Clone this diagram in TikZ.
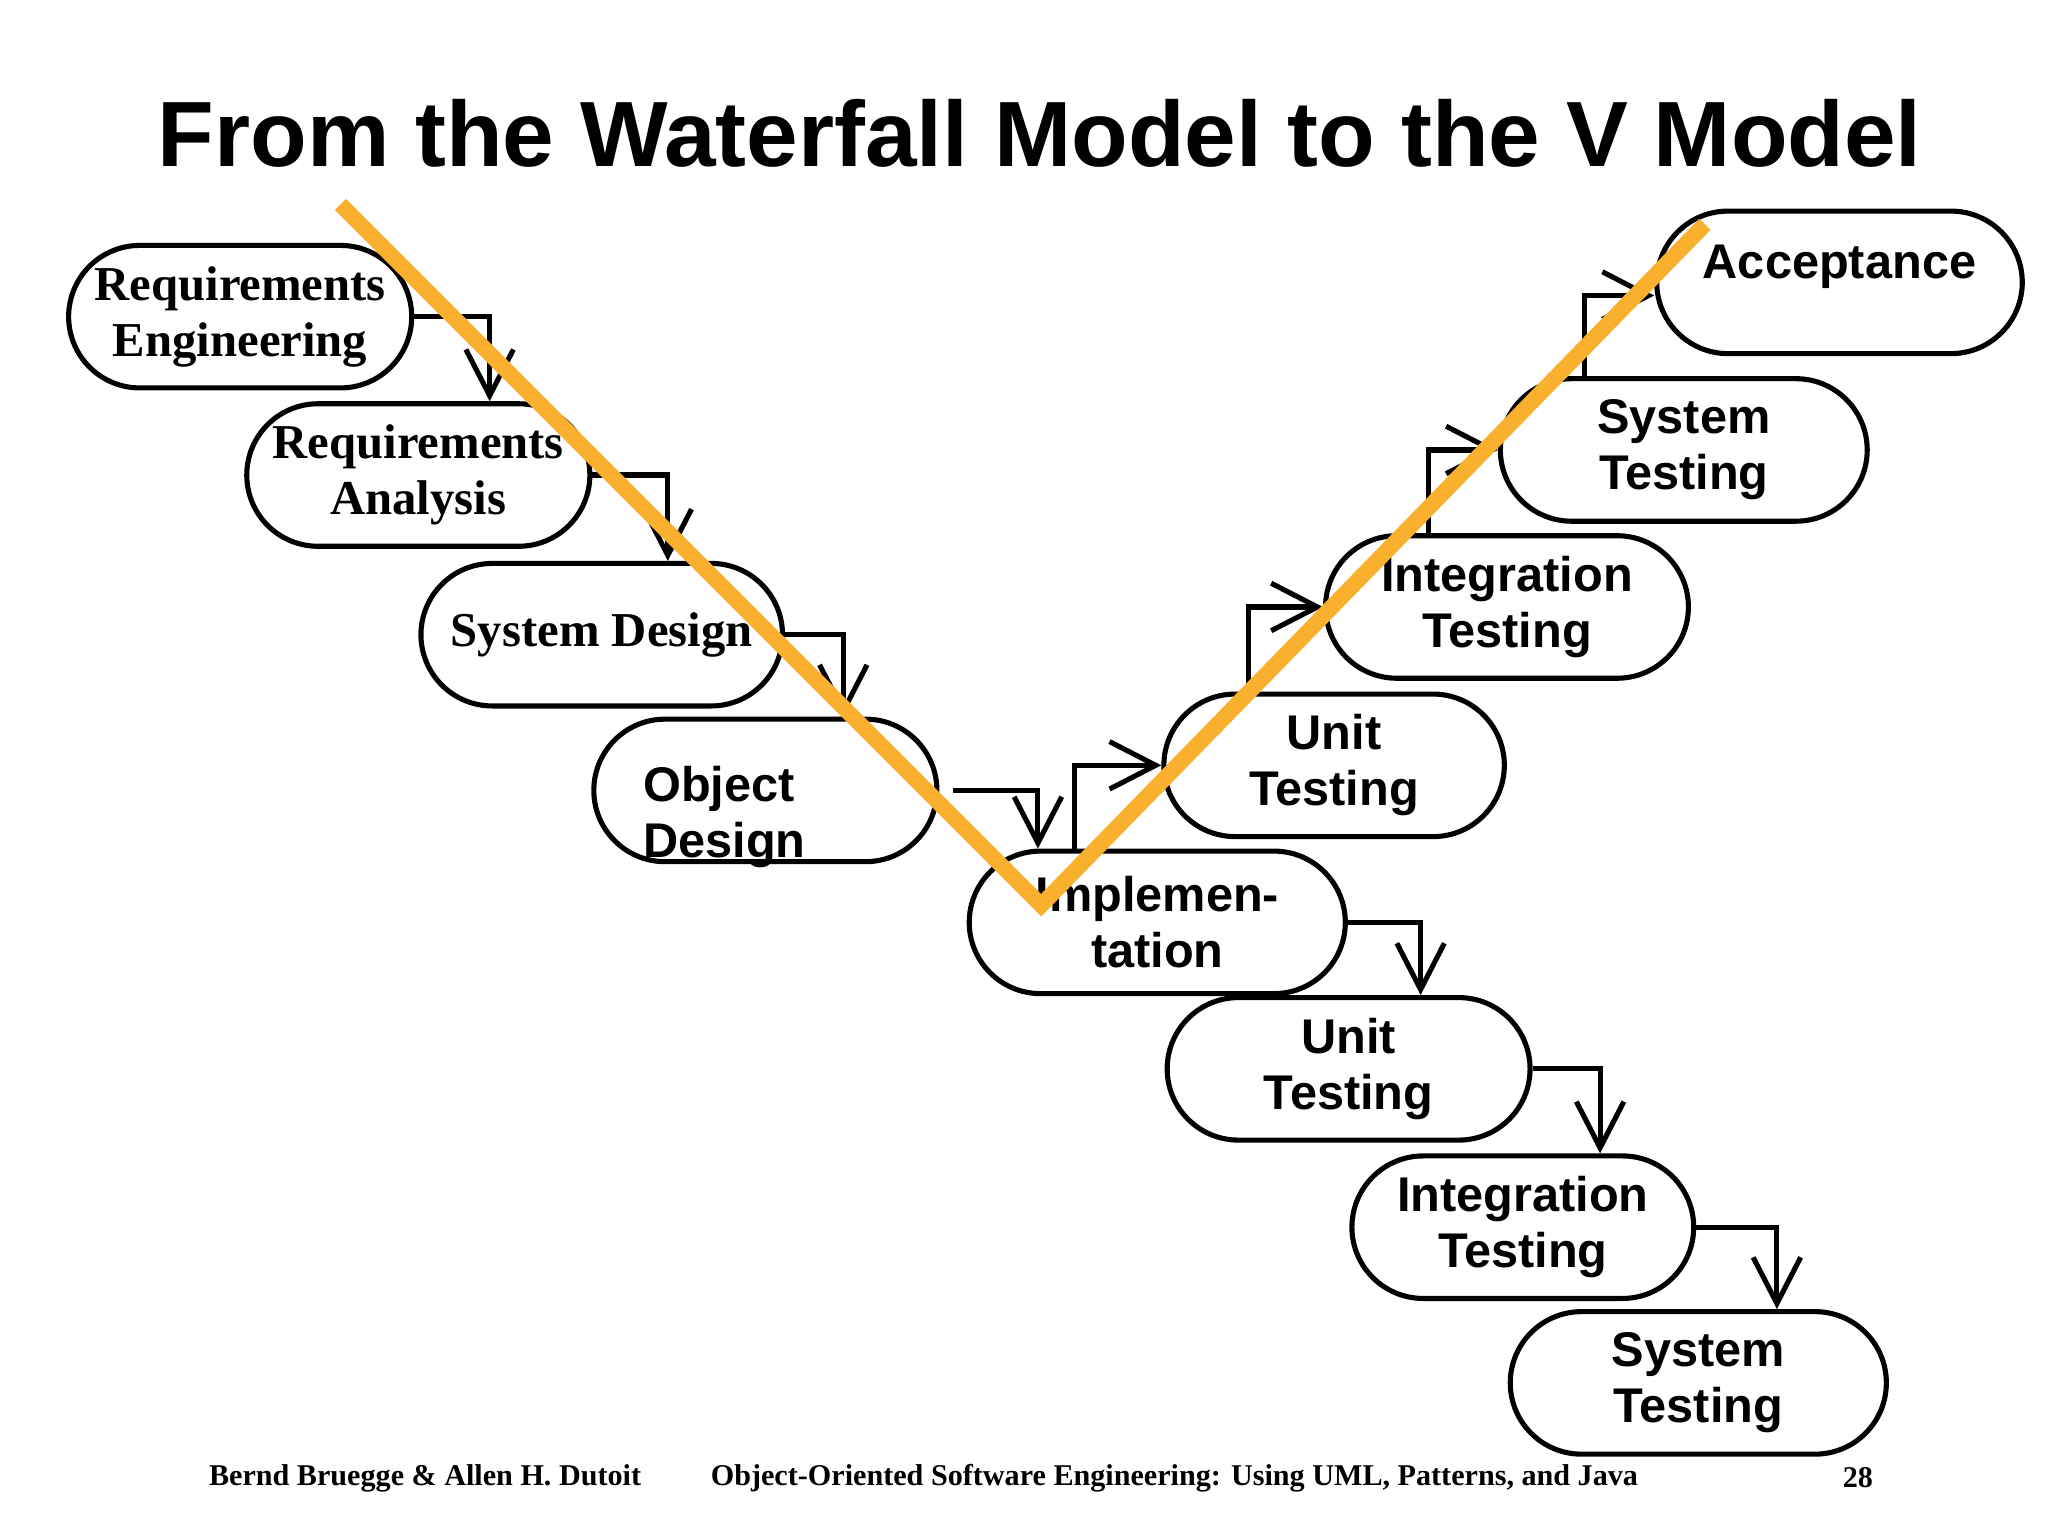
\documentclass[tikz,border=0pt]{standalone}
\usepackage{fontspec}
\setmainfont{Liberation Serif}
\setsansfont{Liberation Sans}
\usetikzlibrary{arrows.meta}
\definecolor{vorange}{RGB}{248,176,46}
\tikzset{
  phase/.style={draw, line width=1.1pt, rounded corners=0.54cm, minimum height=1.08cm, align=center, font=\sffamily\bfseries\fontsize{10.5pt}{12pt}\selectfont},
  sphase/.style={phase, font=\rmfamily\bfseries\fontsize{10.5pt}{12pt}\selectfont},
  flow/.style={line width=1.1pt, -{Straight Barb[length=3.5mm,width=3.6mm]}},
}
\begin{document}
\begin{tikzpicture}
    \useasboundingbox (0,0) rectangle (15.52,11.64);
    \node[font=\sffamily\bfseries\fontsize{20pt}{24pt}\selectfont, anchor=base west] (title) at (1.07,10.38) {From the Waterfall Model to the V Model};

    % waterfall
    \node[sphase, minimum width=2.6cm] (re) at (1.82,9.24) {Requirements\\Engineering};
    \node[sphase, minimum width=2.6cm] (ra) at (3.17,8.04) {Requirements\\Analysis};
    \node[sphase, minimum width=2.74cm] (sd) at (4.56,6.83) {System Design};
    \node[phase, minimum width=2.6cm] (od) at (5.80,5.65) {};
    \node[font=\sffamily\bfseries\fontsize{10.5pt}{12pt}\selectfont, align=left, anchor=west] (odt) at (4.75,5.45) {Object\\Design};
    \node[phase, minimum width=2.85cm] (im) at (8.77,4.65) {Implemen-\\tation};
    \node[phase, minimum width=2.75cm] (utl) at (10.22,3.54) {Unit\\Testing};
    \node[phase, minimum width=2.59cm] (itl) at (11.54,2.34) {Integration\\Testing};
    \node[phase, minimum width=2.85cm] (stl) at (12.87,1.16) {System\\Testing};

    % V right side
    \node[phase, minimum width=2.58cm] (utu) at (10.11,5.84) {Unit\\Testing};
    \node[phase, minimum width=2.75cm] (itu) at (11.42,7.04) {Integration\\Testing};
    \node[phase, minimum width=2.78cm] (stu) at (12.76,8.23) {System\\Testing};
    \node[phase, minimum width=2.77cm] (acc) at (13.94,9.50) {};
    \node[font=\sffamily\bfseries\fontsize{10.5pt}{12pt}\selectfont] (acct) at (13.94,9.62) {Acceptance};

    \draw[flow] (re.east) -| ([xshift=1.86cm]ra.north west);
    \draw[flow] (ra.east) -| ([xshift=1.89cm]sd.north west);
    \draw[flow] (sd.east) -| ([xshift=1.91cm]od.north west);
    \draw[flow] ([xshift=0.1cm]od.east) -| ([xshift=0.54cm]im.north west);
    \draw[flow] (im.east) -| ([xshift=1.94cm]utl.north west);
    \draw[flow] (utl.east) -| ([xshift=1.90cm]itl.north west);
    \draw[flow] (itl.east) -| ([xshift=2.04cm]stl.north west);

    \draw[flow] ([xshift=0.82cm]im.north west) |- (utu.west);
    \draw[flow] ([xshift=0.66cm]utu.north west) |- (itu.west);
    \draw[flow] ([xshift=0.80cm]itu.north west) |- (stu.west);
    \draw[flow] ([xshift=0.66cm]stu.north west) |- ([yshift=-0.1cm]acc.west);

    % the V
    \draw[vorange, line width=0.12cm] (2.58,10.09) -- (7.89,4.78) -- (12.92,9.94);

    % footer
    \begin{scope}[font=\rmfamily\bfseries\fontsize{6.5pt}{8pt}\selectfont]
    \node[anchor=west] (fa) at (1.46,0.44) {Bernd Bruegge \& Allen H. Dutoit};
    \node (fb) at (8.90,0.44) {Object-Oriented Software Engineering: Using UML, Patterns, and Java};
    \node (fc) at (14.08,0.44) {28};
    \end{scope}
\end{tikzpicture}
\end{document}
